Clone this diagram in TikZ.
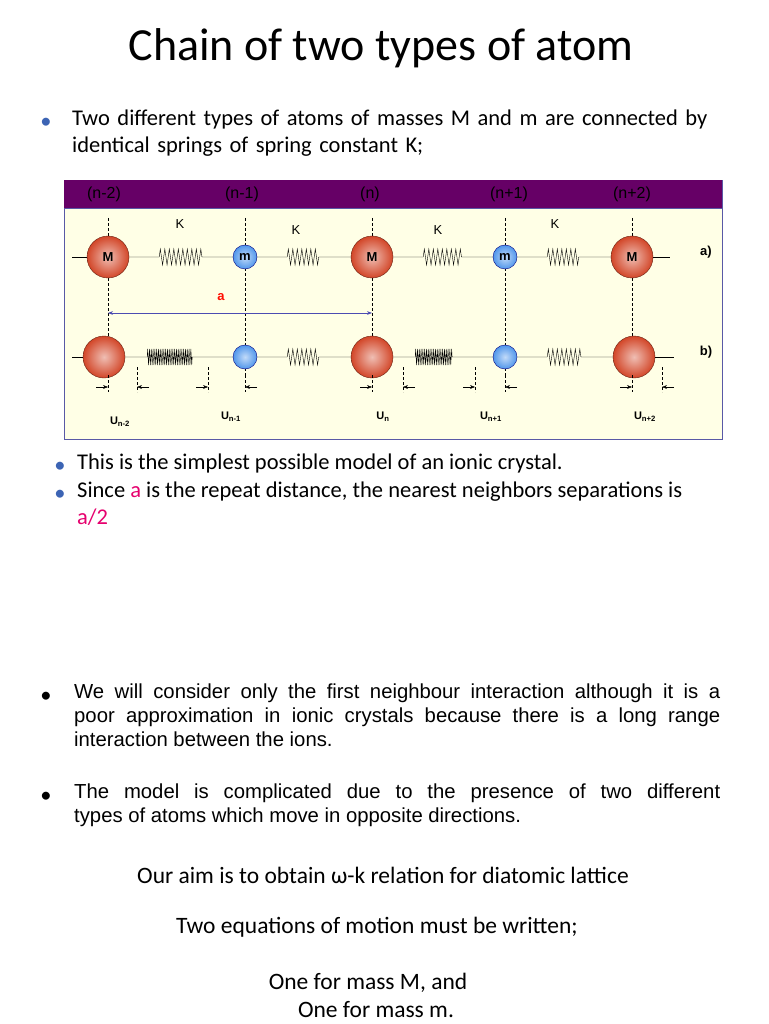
\documentclass[tikz,border=0pt]{standalone}
\usepackage{fontspec}
\setmainfont{Carlito}
\newfontfamily\arialf{Liberation Sans}
\usetikzlibrary{decorations.pathmorphing,arrows.meta}
\definecolor{bul}{RGB}{60,100,180}
\definecolor{pinkr}{RGB}{230,0,110}
\definecolor{hdr}{RGB}{102,0,102}
\definecolor{boxbg}{RGB}{255,255,230}
\definecolor{bigb}{RGB}{210,70,40}
\definecolor{smb}{RGB}{80,150,235}
\hyphenpenalty=10000
\begin{document}
\begin{tikzpicture}[x=1pt,y=-1pt,
  body/.style={font=\fontsize{22.5}{27}\selectfont,anchor=north west,align=left,inner sep=0pt},
  ctr/.style={font=\fontsize{22.5}{27}\selectfont,inner sep=0pt},
  ctrb/.style={font=\fontsize{23.5}{27}\selectfont,inner sep=0pt},
  bigM/.style={circle,draw=bigb!50!black,inner sep=0pt,minimum size=42pt,shading=radial,inner color=bigb!35!white,outer color=bigb,font=\arialf\bfseries\fontsize{13}{13}\selectfont},
  smm/.style={circle,draw=blue!50!black,inner sep=0pt,minimum size=24pt,shading=radial,inner color=smb!35!white,outer color=smb,font=\arialf\bfseries\fontsize{13}{13}\selectfont},
  spr/.style={decorate,decoration={zigzag,segment length=4.5pt,amplitude=8pt,pre length=30pt,post length=30pt}},
  sprc/.style={decorate,decoration={zigzag,segment length=1.8pt,amplitude=8pt,pre length=22pt,post length=40pt}},
  vd/.style={densely dashed,thin},
  lab/.style={font=\arialf\fontsize{13}{13}\selectfont},
  hl/.style={font=\arialf\fontsize{16}{16}\selectfont,text=black},
  ar/.style={-{Stealth[length=5pt]},thin},
  sans/.style={font=\arialf\fontsize{20.3}{24}\selectfont,anchor=north west,inner sep=0pt,text width=646pt,align=justify}]
\useasboundingbox (0,0) rectangle (768,1024);
\fill[white] (0,0) rectangle (768,1024);
\node[font=\fontsize{46}{52}\selectfont] (title) at (381,48) {Chain of two types of atom};
\node[text=bul,ctr] (b1) at (46,123) {•};
\node[body,text width=660pt] (t1) at (72,110) {Two different types of atoms of masses M and m are connected by\\identical springs of spring constant K;};
% diagram box
\draw[fill=boxbg,draw=gray!70!blue] (64,180) rectangle (722,439);
\fill[hdr] (64,180) rectangle (722,208);
\draw[gray!70!blue] (64,208) -- (722,208);
\foreach \x/\t in {104/(n-2),242/(n-1),370/(n),509/(n+1),632/(n+2)} \node[hl] (h\t) at (\x,194) {\t};
% dashed verticals
\foreach \x in {108,245,372,505,632} \draw[vd] (\x,218) -- (\x,375);
% row a
\node[bigM] (a1) at (108,257) {M};
\node[smm] (a2) at (245,257) {m};
\node[bigM] (a3) at (372,257) {M};
\node[smm] (a4) at (505,257) {m};
\node[bigM] (a5) at (632,257) {M};
\coordinate (al) at (72,257); \coordinate (ar) at (670,257);
\draw[thick] (al) -- (a1);
\draw[thick] (a5) -- (ar);
\draw[spr] (a1) -- (a2);
\draw[spr] (a2) -- (a3);
\draw[spr] (a3) -- (a4);
\draw[spr] (a4) -- (a5);
\foreach \x/\y in {180/224,296/230,438/230,555/224} \node[lab] at (\x,\y) {K};
\node[font=\arialf\bfseries\fontsize{13}{13}\selectfont] (la) at (706,252) {a)};
% a arrow
\node[text=red!90!orange,font=\arialf\bfseries\fontsize{13}{13}\selectfont] (alab) at (221,297) {a};
\coordinate (aL) at (108,313); \coordinate (aR) at (372,313);
\draw[{Stealth[length=5pt]}-{Stealth[length=5pt]},blue!40!gray,thick] (aL) -- (aR);
% row b
\node[bigM] (b1n) at (104,357) {};
\node[smm] (b2n) at (245,357) {};
\node[bigM] (b3n) at (372,357) {};
\node[smm] (b4n) at (505,357) {};
\node[bigM] (b5n) at (634,357) {};
\coordinate (bl) at (72,357); \coordinate (br) at (674,357);
\draw[thick] (bl) -- (b1n);
\draw[thick] (b5n) -- (br);
\draw[sprc] (b1n) -- (b2n);
\draw[spr] (b2n) -- (b3n);
\draw[sprc] (b3n) -- (b4n);
\draw[spr] (b4n) -- (b5n);
\node[font=\arialf\bfseries\fontsize{13}{13}\selectfont] (lb) at (706,352) {b)};
% displacement markers
\foreach \x in {137,208,403,475,662} \draw[vd] (\x,367) -- (\x,392);
\foreach \x in {108,245,372,505,632} \draw[vd] (\x,375) -- (\x,392);
\foreach \x in {108,208,372,475,632} \draw[ar] (\x-12,387) -- (\x,387);
\foreach \x in {137,245,403,505,662} \draw[ar] (\x+12,387) -- (\x,387);
\node[font=\arialf\bfseries\fontsize{11}{11}\selectfont] (u1) at (120,422) {U\textsubscript{n-2}};
\node[font=\arialf\bfseries\fontsize{11}{11}\selectfont] (u2) at (231,417) {U\textsubscript{n-1}};
\node[font=\arialf\bfseries\fontsize{11}{11}\selectfont] (u3) at (383,417) {U\textsubscript{n}};
\node[font=\arialf\bfseries\fontsize{11}{11}\selectfont] (u4) at (491,417) {U\textsubscript{n+1}};
\node[font=\arialf\bfseries\fontsize{11}{11}\selectfont] (u5) at (645,417) {U\textsubscript{n+2}};
% text below
\node[text=bul,ctr] (b2) at (60,467) {•};
\node[body] (t2) at (77,454) {This is the simplest possible model of an ionic crystal.};
\node[text=bul,ctr] (b3) at (60,495) {•};
\node[body] (t3) at (77,482) {Since \textcolor{pinkr}{a} is the repeat distance, the nearest neighbors separations is\\\textcolor{pinkr}{a/2}};
\node[ctr] (b4) at (46,697) {•};
\node[sans] (t4) at (74,684) {We will consider only the first neighbour interaction although it is a\linebreak poor approximation in ionic crystals because there is a long range\linebreak interaction between the ions.};
\node[ctr] (b5) at (46,797) {•};
\node[sans] (t5) at (74,784) {The model is complicated due to the presence of two different\linebreak types of atoms which move in opposite directions.};
\node[ctrb] (t6) at (383,875) {Our aim is to obtain ω-k relation for diatomic lattice};
\node[ctrb] (t7) at (377,927) {Two equations of motion must be written;};
\node[ctrb] (t8) at (368,983) {One for mass M, and};
\node[ctrb] (t9) at (376,1010) {One for mass m.};
\end{tikzpicture}
\end{document}
